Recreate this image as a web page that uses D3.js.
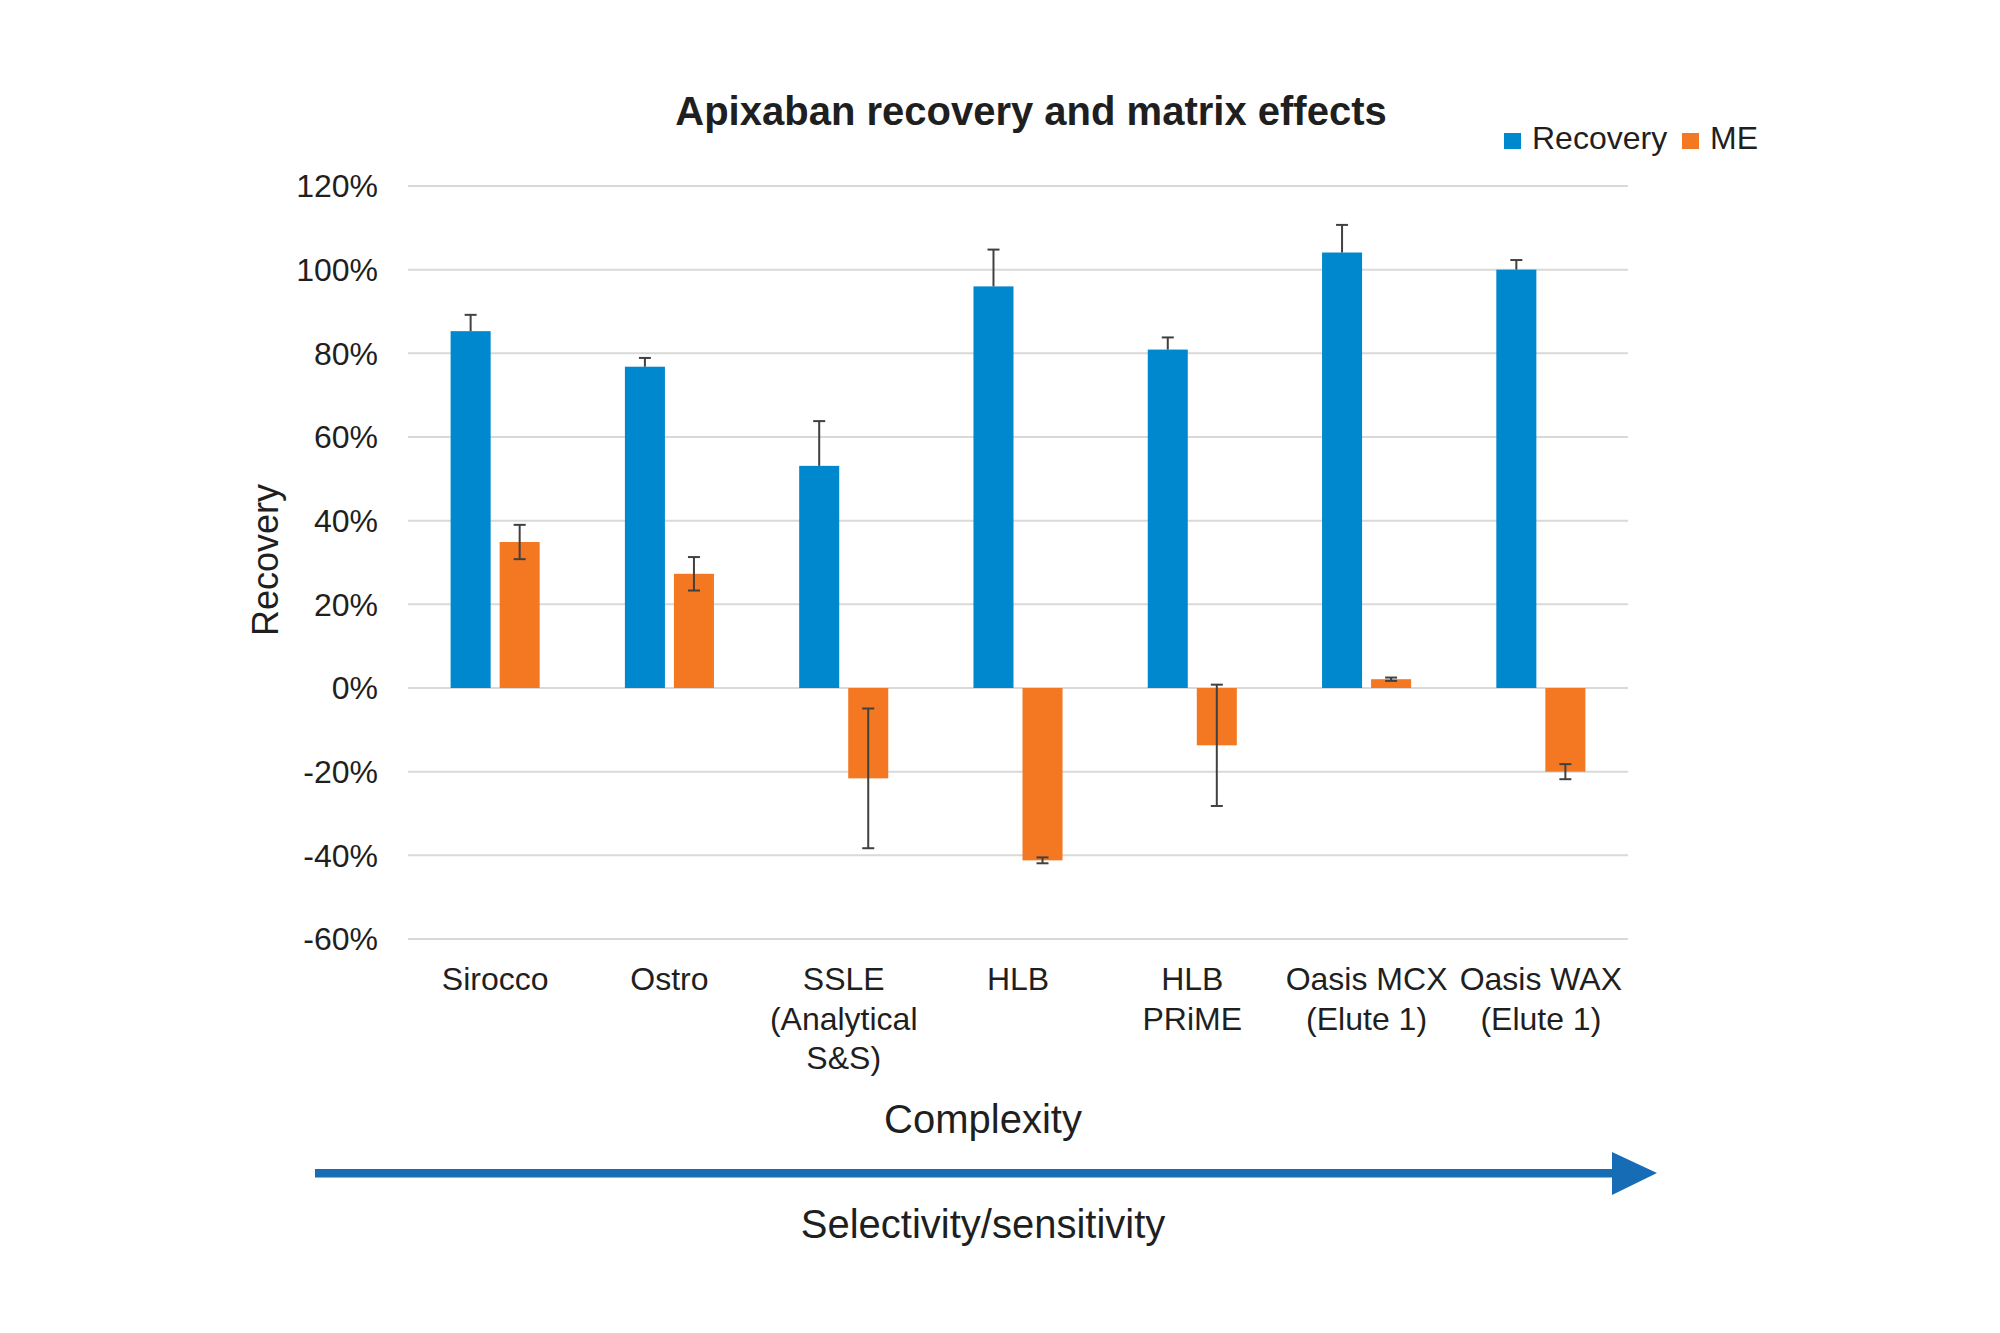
<!DOCTYPE html>
<html>
<head>
<meta charset="utf-8">
<script src="https://cdn.jsdelivr.net/npm/d3@7"></script>
<style>
  body { margin: 0; background: #fff; }
  text { font-family: "Liberation Sans", Arial, sans-serif; fill: #1f1f1f; }
</style>
</head>
<body>
<div id="chart"></div>
<script>
// categories, each one split into the lines it is printed on
const categories = ["Sirocco", "Ostro", "SSLE", "HLB", "HLB PRiME", "Oasis MCX", "Oasis WAX"];
const categoryLines = [
    ["Sirocco"],
    ["Ostro"],
    ["SSLE", "(Analytical", "S&S)"],
    ["HLB"],
    ["HLB", "PRiME"],
    ["Oasis MCX", "(Elute 1)"],
    ["Oasis WAX", "(Elute 1)"]
];

// values in %
const recovery = [85.3, 76.8, 53.1, 96.0, 80.9, 104.1, 100.0];
const recoveryErr = [3.9, 2.1, 10.7, 8.8, 2.9, 6.6, 2.3];
const me = [34.9, 27.3, -21.6, -41.2, -13.7, 2.1, -20.0];
const meErr = [4.1, 4.0, 16.7, 0.7, 14.5, 0.4, 1.8];

const seriesNames = ["Recovery", "ME"];
const seriesColors = ["#0088ce", "#f37821"];
const yTicks = [-60, -40, -20, 0, 20, 40, 60, 80, 100, 120];

const width = 2000;
const height = 1333;
const plot = { left: 408, right: 1628, top: 186, bottom: 939 };

const svg = d3.select("#chart")
    .append("svg")
    .attr("width", width)
    .attr("height", height);

svg.append("rect")
    .attr("width", width)
    .attr("height", height)
    .attr("fill", "#fff");

const x0 = d3.scaleBand()
    .domain(categories)
    .range([plot.left, plot.right])
    .paddingInner(0.489)
    .paddingOuter(0.2445);

const x1 = d3.scaleBand()
    .domain(seriesNames)
    .range([0, x0.bandwidth()])
    .paddingInner(0.1837);

const y = d3.scaleLinear()
    .domain([-60, 120])
    .range([plot.bottom, plot.top]);

const color = d3.scaleOrdinal(seriesNames, seriesColors);

// gridlines
svg.append("g")
    .selectAll("line")
    .data(yTicks)
    .enter().append("line")
    .attr("x1", plot.left)
    .attr("x2", plot.right)
    .attr("y1", d => y(d))
    .attr("y2", d => y(d))
    .attr("stroke", "#d9d9d9")
    .attr("stroke-width", 2);

// y tick labels
svg.append("g")
    .selectAll("text")
    .data(yTicks)
    .enter().append("text")
    .attr("x", 378)
    .attr("y", d => y(d))
    .attr("dy", "0.35em")
    .attr("text-anchor", "end")
    .style("font-size", "32px")
    .text(d => d + "%");

// rows for the bars
const rows = [];
categories.forEach((c, i) => {
    rows.push({ cat: c, series: "Recovery", value: recovery[i], err: recoveryErr[i], both: false });
    rows.push({ cat: c, series: "ME", value: me[i], err: meErr[i], both: true });
});

const barX = d => x0(d.cat) + x1(d.series);

svg.append("g")
    .selectAll("rect")
    .data(rows)
    .enter().append("rect")
    .attr("x", barX)
    .attr("width", x1.bandwidth())
    .attr("y", d => y(Math.max(0, d.value)))
    .attr("height", d => Math.abs(y(d.value) - y(0)))
    .attr("fill", d => color(d.series));

// error bars (recovery only shows the plus side)
const errG = svg.append("g")
    .attr("stroke", "#404040")
    .attr("stroke-width", 2);

rows.forEach(d => {
    const cx = barX(d) + x1.bandwidth() / 2;
    const hi = d.value + d.err;
    const lo = d.both ? d.value - d.err : d.value;
    errG.append("line")
        .attr("x1", cx).attr("x2", cx)
        .attr("y1", y(hi)).attr("y2", y(lo));
    errG.append("line")
        .attr("x1", cx - 6).attr("x2", cx + 6)
        .attr("y1", y(hi)).attr("y2", y(hi));
    if (d.both) {
        errG.append("line")
            .attr("x1", cx - 6).attr("x2", cx + 6)
            .attr("y1", y(lo)).attr("y2", y(lo));
    }
});

// category labels
const catLabels = svg.append("g")
    .selectAll("text")
    .data(categories)
    .enter().append("text")
    .attr("text-anchor", "middle")
    .style("font-size", "32px");

catLabels.each(function(c, i) {
    const cx = x0(c) + x0.bandwidth() / 2;
    d3.select(this).selectAll("tspan")
        .data(categoryLines[i])
        .enter().append("tspan")
        .attr("x", cx)
        .attr("y", (d, j) => 990 + j * 39.5)
        .text(d => d);
});

// title
svg.append("text")
    .attr("x", 1031)
    .attr("y", 125)
    .attr("text-anchor", "middle")
    .style("font-size", "40px")
    .style("font-weight", "bold")
    .text("Apixaban recovery and matrix effects");

// legend
const legendPos = [1504, 1682];
const legend = svg.append("g")
    .selectAll("g")
    .data(seriesNames)
    .enter().append("g")
    .attr("transform", (d, i) => `translate(${legendPos[i]},0)`);

legend.append("rect")
    .attr("y", 133)
    .attr("width", 17)
    .attr("height", 16)
    .attr("fill", d => color(d));

legend.append("text")
    .attr("x", 28)
    .attr("y", 149)
    .style("font-size", "32px")
    .text(d => d);

// y axis title
svg.append("text")
    .attr("transform", "translate(278,560) rotate(-90)")
    .attr("text-anchor", "middle")
    .style("font-size", "36px")
    .text("Recovery");

// complexity arrow
svg.append("text")
    .attr("x", 983)
    .attr("y", 1133)
    .attr("text-anchor", "middle")
    .style("font-size", "40px")
    .text("Complexity");

svg.append("rect")
    .attr("x", 315)
    .attr("y", 1169)
    .attr("width", 1300)
    .attr("height", 8.5)
    .attr("fill", "#166db5");

svg.append("path")
    .attr("d", "M1612,1152 L1657,1173 L1612,1195 Z")
    .attr("fill", "#166db5");

svg.append("text")
    .attr("x", 983)
    .attr("y", 1238)
    .attr("text-anchor", "middle")
    .style("font-size", "40px")
    .text("Selectivity/sensitivity");
</script>
</body>
</html>
